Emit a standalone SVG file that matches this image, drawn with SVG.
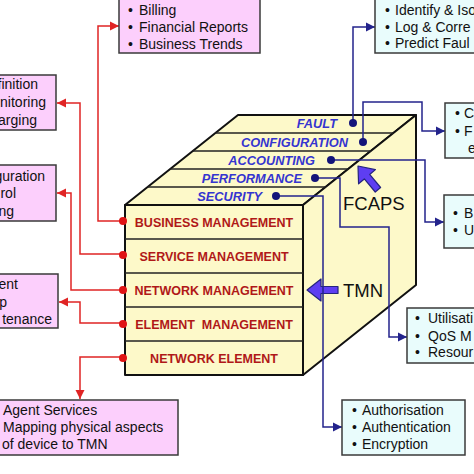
<svg xmlns="http://www.w3.org/2000/svg" width="474" height="474" viewBox="0 0 474 474">
<style>
.pink{fill:#fccffc;stroke:#3a3a3a;stroke-width:1.5}
.cyan{fill:#e9fcfc;stroke:#3a3a3a;stroke-width:1.5}
.t{font-family:"Liberation Sans",Arial,sans-serif;font-size:14px;fill:#111}
.e{text-anchor:end}
.face{fill:#fdf9c9;stroke:#111;stroke-width:2;stroke-linejoin:round}
.row{stroke:#222;stroke-width:1.6}
.fc{font-family:"Liberation Sans",Arial,sans-serif;font-size:12.8px;font-weight:bold;font-style:italic;fill:#3535d0;text-anchor:end}
.tm{font-family:"Liberation Sans",Arial,sans-serif;font-size:12.5px;font-weight:bold;fill:#b01818;text-anchor:middle}
.big{font-family:"Liberation Sans",Arial,sans-serif;font-size:18.5px;fill:#111}
.red{fill:none;stroke:#e02424;stroke-width:1.5}
.blue{fill:none;stroke:#23238c;stroke-width:1.5}
.rd{fill:#e01414}
.bd{fill:#14147a}
.fat{fill:#5e3ef2;stroke:#24247e;stroke-width:1.2;stroke-linejoin:round}
</style>
<defs>
<marker id="ra" markerUnits="userSpaceOnUse" markerWidth="10" markerHeight="10" refX="9" refY="5" orient="auto"><path d="M0,0.5 L9,5 L0,9.5 Z" fill="#e02424"/></marker>
<marker id="ba" markerUnits="userSpaceOnUse" markerWidth="10" markerHeight="10" refX="9" refY="5" orient="auto"><path d="M0,0.5 L9,5 L0,9.5 Z" fill="#23238c"/></marker>
<path id="fatArrow" d="M0,0 L14,-11 L14,-3.5 L31,-3.5 L31,3.5 L14,3.5 L14,11 Z"/>
</defs>

<g id="cube">
<rect class="face" x="125" y="205" width="178" height="170"/>
<polygon class="face" points="125,205 238,115 416,115 303,205"/>
<polygon class="face" points="303,205 416,115 416,285 303,375"/>
<g class="row">
<line x1="125" y1="239" x2="303" y2="239"/>
<line x1="125" y1="273" x2="303" y2="273"/>
<line x1="125" y1="307" x2="303" y2="307"/>
<line x1="125" y1="341" x2="303" y2="341"/>
<line x1="147.6" y1="187" x2="325.6" y2="187"/>
<line x1="170.2" y1="169" x2="348.2" y2="169"/>
<line x1="192.8" y1="151" x2="370.8" y2="151"/>
<line x1="215.4" y1="133" x2="393.4" y2="133"/>
</g>
<text class="fc" x="337" y="128">FAULT</text>
<text class="fc" x="348" y="146.5">CONFIGURATION</text>
<text class="fc" x="315" y="164.5">ACCOUNTING</text>
<text class="fc" x="302" y="182.5">PERFORMANCE</text>
<text class="fc" x="262" y="200.5">SECURITY</text>
<text class="tm" x="214" y="226.5">BUSINESS MANAGEMENT</text>
<text class="tm" x="214" y="260.5">SERVICE MANAGEMENT</text>
<text class="tm" x="214" y="294.5">NETWORK MANAGEMENT</text>
<text class="tm" x="214" y="328.5" xml:space="preserve">ELEMENT  MANAGEMENT</text>
<text class="tm" x="214" y="362.5">NETWORK ELEMENT</text>
<text class="big" x="343" y="209.5">FCAPS</text>
<text class="big" x="343" y="296.5">TMN</text>
<use href="#fatArrow" class="fat" transform="translate(358,166) rotate(50)"/>
<use href="#fatArrow" class="fat" transform="translate(307,290)"/>
</g>

<g id="connectors">
<path class="red" d="M122,221 H98 V26 H119" marker-end="url(#ra)"/>
<path class="red" d="M122,254 H80 V103 H57" marker-end="url(#ra)"/>
<path class="red" d="M122,290 H71 V193 H57" marker-end="url(#ra)"/>
<path class="red" d="M122,323 H80 V302 H59" marker-end="url(#ra)"/>
<path class="red" d="M122,357 H80 V399" marker-end="url(#ra)"/>
<circle class="rd" cx="123" cy="221" r="4"/>
<circle class="rd" cx="123" cy="255" r="4"/>
<circle class="rd" cx="123" cy="290" r="4"/>
<circle class="rd" cx="123" cy="324" r="4"/>
<circle class="rd" cx="123" cy="358" r="4"/>
<path class="blue" d="M353,123 V27 H375" marker-end="url(#ba)"/>
<path class="blue" d="M363,142 V102 H422 V131 H445" marker-end="url(#ba)"/>
<path class="blue" d="M331,160 H425 V222 H444" marker-end="url(#ba)"/>
<path class="blue" d="M315,178 H340 V227 H389 V337 H407" marker-end="url(#ba)"/>
<path class="blue" d="M276,196 H323 V427 H342" marker-end="url(#ba)"/>
<circle class="bd" cx="353" cy="123" r="4"/>
<circle class="bd" cx="363" cy="142" r="4"/>
<circle class="bd" cx="331" cy="160" r="4"/>
<circle class="bd" cx="315" cy="178" r="4"/>
<circle class="bd" cx="276" cy="196" r="4"/>
</g>

<g id="business-box">
<rect class="pink" x="119" y="-5" width="141" height="58"/>
<text class="t" y="15"><tspan x="128">•</tspan><tspan x="139">Billing</tspan></text>
<text class="t" y="32"><tspan x="128">•</tspan><tspan x="139">Financial Reports</tspan></text>
<text class="t" y="49"><tspan x="128">•</tspan><tspan x="139">Business Trends</tspan></text>
</g>
<g id="service-box">
<rect class="pink" x="-5" y="75" width="61" height="55"/>
<text class="t e" x="38" y="89">finition</text>
<text class="t e" x="46" y="107">nitoring</text>
<text class="t e" x="37" y="125">arging</text>
</g>
<g id="network-box">
<rect class="pink" x="-5" y="165" width="61" height="56"/>
<text class="t e" x="45" y="181">guration</text>
<text class="t e" x="16" y="198">rol</text>
<text class="t e" x="14" y="216">ng</text>
</g>
<g id="element-box">
<rect class="pink" x="-5" y="274" width="63" height="54"/>
<text class="t e" x="18" y="289">ent</text>
<text class="t e" x="7" y="307">p</text>
<text class="t e" x="52" y="324">tenance</text>
</g>
<g id="ne-box">
<rect class="pink" x="-5" y="400" width="183" height="55"/>
<text class="t" x="3" y="415">Agent Services</text>
<text class="t" x="3" y="432">Mapping physical aspects</text>
<text class="t" x="2" y="449">of device to TMN</text>
</g>
<g id="fault-box">
<rect class="cyan" x="375" y="-5" width="110" height="58"/>
<text class="t" y="15"><tspan x="385">•</tspan><tspan x="395">Identify &amp; Iso</tspan></text>
<text class="t" y="32"><tspan x="385">•</tspan><tspan x="395">Log &amp; Corre</tspan></text>
<text class="t" y="48"><tspan x="385">•</tspan><tspan x="395">Predict Faul</tspan></text>
</g>
<g id="config-box">
<rect class="cyan" x="445" y="103" width="40" height="55"/>
<text class="t" y="118"><tspan x="455">•</tspan><tspan x="464">C</tspan></text>
<text class="t" y="136"><tspan x="455">•</tspan><tspan x="464">F</tspan></text>
<text class="t" x="468" y="153">e</text>
</g>
<g id="accounting-box">
<rect class="cyan" x="444" y="195" width="40" height="53"/>
<text class="t" y="218"><tspan x="453">•</tspan><tspan x="464">B</tspan></text>
<text class="t" y="235"><tspan x="453">•</tspan><tspan x="464">U</tspan></text>
</g>
<g id="performance-box">
<rect class="cyan" x="407" y="308" width="80" height="55"/>
<text class="t" y="323"><tspan x="415">•</tspan><tspan x="428">Utilisati</tspan></text>
<text class="t" y="341"><tspan x="415">•</tspan><tspan x="428">QoS M</tspan></text>
<text class="t" y="357"><tspan x="415">•</tspan><tspan x="428">Resour</tspan></text>
</g>
<g id="security-box">
<rect class="cyan" x="342" y="400" width="123" height="55"/>
<text class="t" y="415"><tspan x="352">•</tspan><tspan x="362">Authorisation</tspan></text>
<text class="t" y="432"><tspan x="352">•</tspan><tspan x="362">Authentication</tspan></text>
<text class="t" y="449"><tspan x="352">•</tspan><tspan x="362">Encryption</tspan></text>
</g>
</svg>
